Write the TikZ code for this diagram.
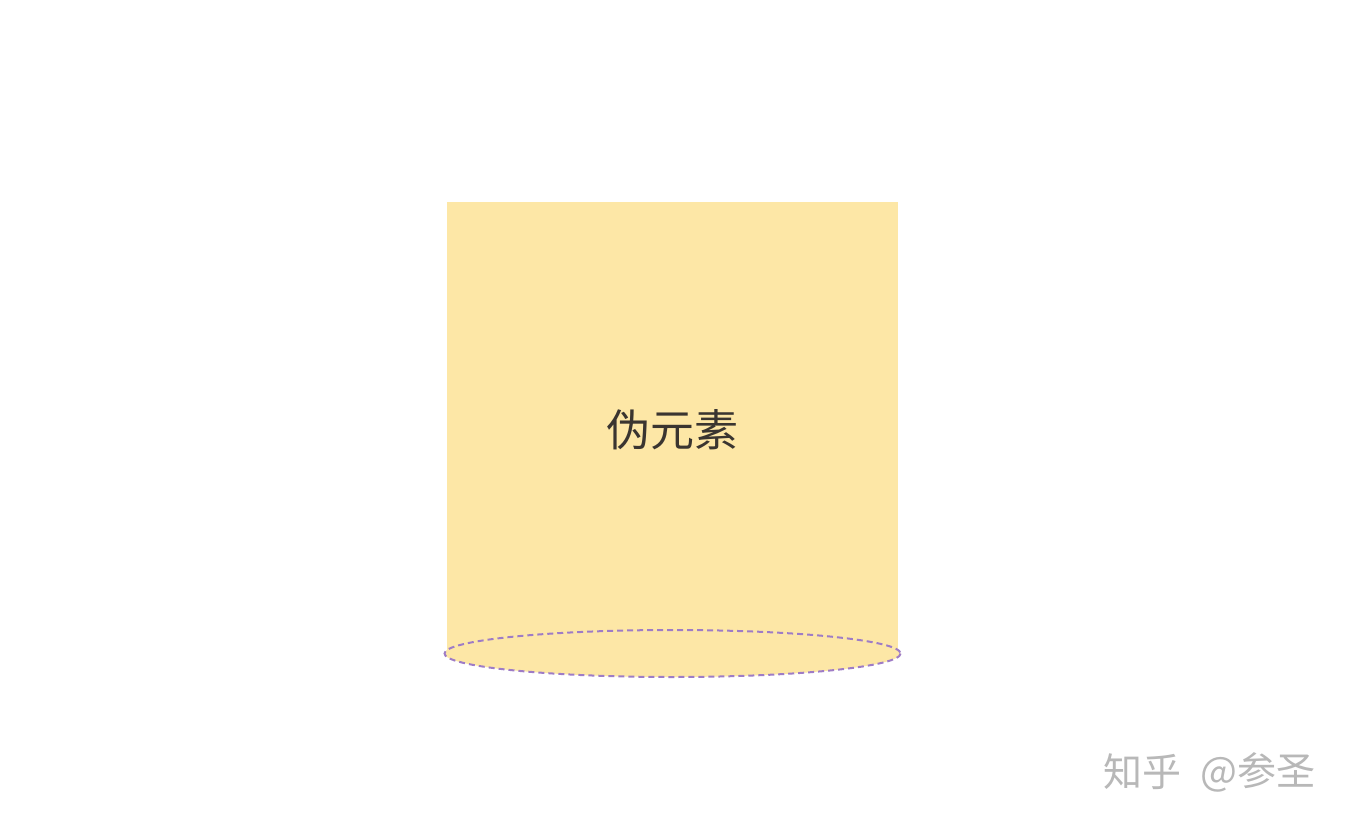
\documentclass[tikz,border=0pt]{standalone}
\usepackage{fontspec}
\newfontfamily\cjk{Noto Sans CJK SC}
\definecolor{boxyellow}{HTML}{FDE7A6}
\definecolor{dashpurple}{HTML}{9E7CC6}
\definecolor{textdark}{HTML}{3A3530}
\definecolor{wmgray}{HTML}{B8B8B8}
\begin{document}
\begin{tikzpicture}[x=1pt,y=-1pt,
  lbl/.style={font=\cjk\fontsize{44}{50}\selectfont, text=textdark, inner sep=0pt},
  wm/.style={font=\cjk\fontsize{39}{44}\selectfont, text=wmgray, inner sep=0pt, anchor=west}]
\useasboundingbox[fill=white] (0,0) rectangle (1352,827);
\fill[boxyellow] (447,202) rectangle (898,653);
\fill[boxyellow] (672.5,653.5) ellipse [x radius=228, y radius=23.5];
\draw[dashpurple, line width=2pt, dash pattern=on 6pt off 4pt] (672.5,653.5) ellipse [x radius=228, y radius=23.5];
\node[lbl] (label) at (672,430) {伪元素};
\node[wm] (mark1) at (1103,772) {知乎};
\node[wm] (mark2) at (1200,772) {@参圣};
\end{tikzpicture}
\end{document}
